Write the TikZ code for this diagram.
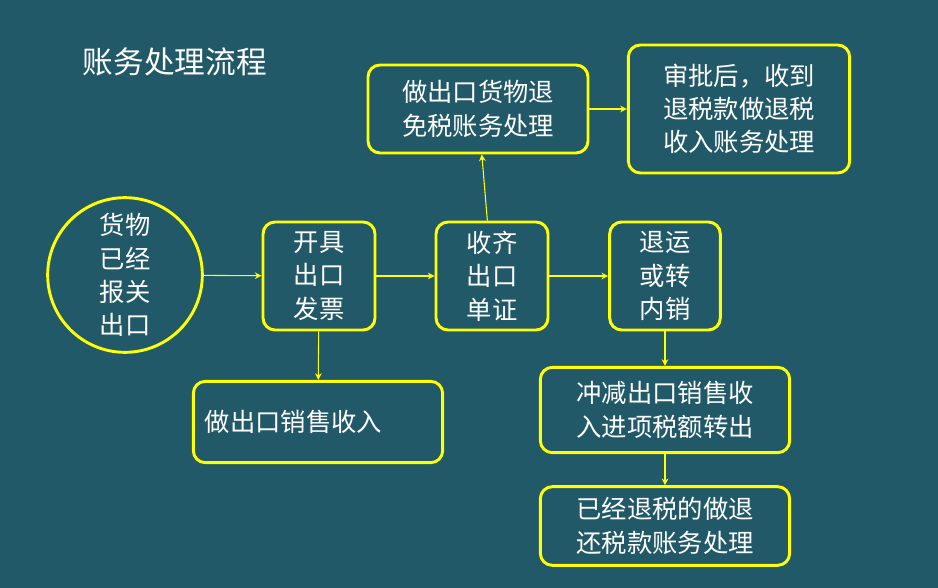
\documentclass[tikz,border=0pt]{standalone}
\usepackage{fontspec}
\newfontfamily\cjk{Noto Sans CJK SC}
\usetikzlibrary{arrows.meta,positioning}
\definecolor{bgteal}{HTML}{215968}
\definecolor{boxline}{HTML}{FFFF00}
\begin{document}
\begin{tikzpicture}
[x=0.75pt,y=-0.75pt,
 stepbox/.style={rectangle,rounded corners=9pt,draw=boxline,line width=2.2pt,text=white,
   font=\cjk\fontsize{19}{25}\selectfont,inner sep=0pt},
 flow/.style={-{Stealth[length=5pt,width=5pt]},draw=boxline,line width=0.8pt}]
\fill[bgteal] (0,0) rectangle (938,588);
\node[text=white,font=\cjk\fontsize{23}{28}\selectfont,anchor=west] (title) at (78,62) {账务处理流程};
\node[circle,draw=boxline,line width=2.2pt,text=white,font=\cjk\fontsize{19}{25}\selectfont,
  minimum size=116pt,align=center,inner sep=0pt] (goods) at (125,275) {货物\\已经\\报关\\出口};
\node[stepbox,minimum width=84pt,minimum height=81pt,align=center] (invoice) at (319,276) {开具\\出口\\发票};
\node[stepbox,minimum width=84pt,minimum height=81pt,align=center] (docs) at (492,276) {收齐\\出口\\单证};
\node[stepbox,minimum width=83pt,minimum height=81pt,align=center] (returned) at (665,276) {退运\\或转\\内销};
\node[stepbox,minimum width=165pt,minimum height=66pt,align=left] (refund) at (478,109) {做出口货物退\\免税账务处理};
\node[stepbox,minimum width=166pt,minimum height=96pt,align=left] (approve) at (739,109) {审批后，收到\\退税款做退税\\收入账务处理};
\node[stepbox,minimum width=187pt,minimum height=61pt,align=left,text width=170pt] (sales) at (318,422) {做出口销售收入};
\node[stepbox,minimum width=187pt,minimum height=64pt,align=left] (offset) at (665,410) {冲减出口销售收\\入进项税额转出};
\node[stepbox,minimum width=187pt,minimum height=59pt,align=left] (repay) at (665,526) {已经退税的做退\\还税款账务处理};
\draw[flow] (goods) -- (invoice);
\draw[flow] (invoice) -- (docs);
\draw[flow] (docs) -- (returned);
\draw[flow] (docs) -- (refund);
\draw[flow] (refund) -- (approve);
\draw[flow] (invoice) -- (sales);
\draw[flow] (returned) -- (offset);
\draw[flow] (offset) -- (repay);
\end{tikzpicture}
\end{document}
